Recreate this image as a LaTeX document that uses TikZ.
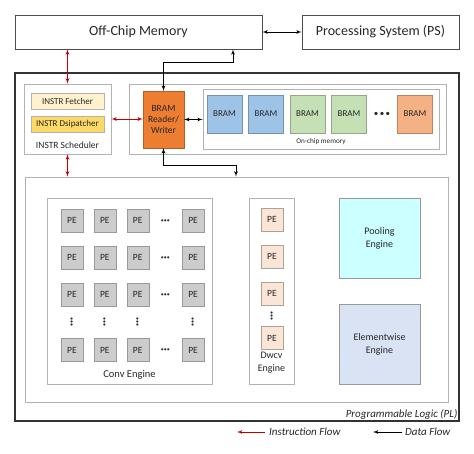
\documentclass[tikz,border=0pt]{standalone}
\usepackage{fontspec}
\setmainfont{Carlito}
\usetikzlibrary{shapes,arrows}
\definecolor{instrred}{HTML}{C00000}
\definecolor{bramblue}{HTML}{9DC3E6}
\definecolor{bramgreen}{HTML}{C5E0B4}
\definecolor{bramorange}{HTML}{F4B183}
\definecolor{rworange}{HTML}{ED7D31}
\definecolor{fetchcream}{HTML}{FFF2CC}
\definecolor{dispgold}{HTML}{FFD966}
\definecolor{dwpeach}{HTML}{FBE5D6}
\definecolor{poolcyan}{HTML}{CCFFFF}
\definecolor{eltlilac}{HTML}{DAE3F3}
\tikzset{font=\fontsize{10.5}{12}\selectfont}

\begin{document}
\begin{tikzpicture}
  [x=1pt, y=-1pt, auto, every node/.style={text=black!85},
  topblock/.style={rectangle, draw=black!70, line width=0.8pt, inner sep=0pt, minimum height=34pt, font=\fontsize{14}{16}\selectfont},
  plframe/.style={rectangle, draw=black!80, line width=1.2pt, minimum width=444pt, minimum height=348pt},
  panel/.style={rectangle, draw=black!30, line width=0.8pt, inner sep=0pt},
  instr/.style={rectangle, draw=black!30, fill=#1, minimum width=73pt, minimum height=16pt, inner sep=0pt, font=\fontsize{9}{10}\selectfont},
  bram/.style={rectangle, draw=#1!75!black, fill=#1, minimum width=35pt, minimum height=38pt, inner sep=0pt, font=\fontsize{9}{10}\selectfont},
  rwblock/.style={rectangle, draw=rworange!75!black, fill=rworange, minimum width=41pt, minimum height=57pt, inner sep=0pt, align=center, font=\fontsize{9.5}{11}\selectfont},
  pe/.style={rectangle, draw=black!40, fill=black!20, minimum width=22pt, minimum height=23pt, inner sep=0pt, font=\fontsize{9.5}{10}\selectfont},
  dpe/.style={pe, draw=dwpeach!70!black, fill=dwpeach},
  hdots/.style={inner sep=0pt, minimum width=12pt, font=\fontsize{6}{6}\selectfont},
  vdots/.style={hdots, rotate=90},
  engine/.style={rectangle, draw=black!40, fill=#1, minimum width=81pt, minimum height=80pt, align=center, font=\fontsize{10}{13}\selectfont},
  caption/.style={inner sep=1pt, align=center},
  legend/.style={inner sep=2pt, font=\fontsize{11}{12}\selectfont\itshape},
  line/.style={draw, line width=0.8pt, >=latex'},
  iline/.style={line, draw=instrred}]

  \useasboundingbox (0,0) rectangle (474,454);

  % top level
  \node [topblock, minimum width=247pt] (offchip) at (138.5,32) {Off-Chip Memory};
  \node [topblock, minimum width=157pt] (ps) at (380.5,32) {Processing System (PS)};
  \node [plframe] (pl) at (237,247) {};
  \node [legend, anchor=south east] (pllbl) at (pl.south east) {Programmable Logic (PL)};

  % scheduler
  \node [panel, minimum width=87pt, minimum height=70pt] (sched) at (67.5,119) {};
  \node [instr=fetchcream] (fetcher) at (67.5,101) {INSTR Fetcher};
  \node [instr=dispgold] (dispatcher) at (67.5,124) {INSTR Dsipatcher};
  \node [caption, font=\fontsize{9.5}{11}\selectfont] (schedlbl) at (67.5,145) {INSTR Scheduler};

  % memory side
  \node [panel, minimum width=317pt, minimum height=70pt] (membox) at (287.5,119) {};
  \node [rwblock] (bramrw) at (163.5,119.5) {BRAM\\Reader/\\Writer};
  \node [panel, minimum width=236pt, minimum height=60pt] (onchip) at (321,119) {};
  \node [bram=bramblue] (bram1) at (224.5,114) {BRAM};
  \node [bram=bramblue] (bram2) at (266,114) {BRAM};
  \node [bram=bramgreen] (bram3) at (307.5,114) {BRAM};
  \node [bram=bramgreen] (bram4) at (349,114) {BRAM};
  \node [inner sep=0pt, font=\fontsize{9}{9}\selectfont] (bramdots) at (382,114) {\textbullet\,\textbullet\,\textbullet};
  \node [bram=bramorange] (bramn) at (415,114) {BRAM};
  \node [caption, font=\fontsize{7.2}{8}\selectfont] (onchiplbl) at (321,142) {On-chip memory};

  % compute engines
  \node [panel, minimum width=423pt, minimum height=225pt] (engines) at (236.5,289.5) {};
  \node [panel, minimum width=165pt, minimum height=186pt] (conv) at (129.5,291) {};
  \matrix (convgrid) [column sep=10.5pt, row sep=13.5pt] at (132.5,285.5) {
    % row 1
    \node [pe] (pe11){PE}; & \node [pe] (pe12){PE}; & \node [pe] (pe13){PE}; & \node [hdots] {\textbullet\textbullet\textbullet}; & \node [pe] (pe1n){PE}; \\
    % row 2
    \node [pe] (pe21){PE}; & \node [pe] (pe22){PE}; & \node [pe] (pe23){PE}; & \node [hdots] {\textbullet\textbullet\textbullet}; & \node [pe] (pe2n){PE}; \\
    % row 3
    \node [pe] (pe31){PE}; & \node [pe] (pe32){PE}; & \node [pe] (pe33){PE}; & \node [hdots] {\textbullet\textbullet\textbullet}; & \node [pe] (pe3n){PE}; \\[-3.5pt]
    % dots
    \node [vdots] {\textbullet\textbullet\textbullet}; & \node [vdots] {\textbullet\textbullet\textbullet}; & \node [vdots] {\textbullet\textbullet\textbullet}; & & \node [vdots] {\textbullet\textbullet\textbullet}; \\[-3.5pt]
    % last row
    \node [pe] (pen1){PE}; & \node [pe] (pen2){PE}; & \node [pe] (pen3){PE}; & \node [hdots] {\textbullet\textbullet\textbullet}; & \node [pe] (penn){PE}; \\
  };
  \node [caption] (convlbl) at (129.5,375) {Conv Engine};

  \node [panel, minimum width=45pt, minimum height=186pt] (dwcv) at (271.5,291) {};
  \matrix (dwgrid) [row sep=13.5pt] at (272,279) {
    \node [dpe] (dpe1){PE}; \\
    \node [dpe] (dpe2){PE}; \\
    \node [dpe] (dpe3){PE}; \\[-9pt]
    \node [vdots] {\textbullet\textbullet\textbullet}; \\[-9pt]
    \node [dpe] (dpen){PE}; \\
  };
  \node [caption, font=\fontsize{10}{13}\selectfont] (dwcvlbl) at (271.5,363) {Dwcv\\Engine};

  \node [engine=poolcyan] (pool) at (379.5,238) {Pooling\\Engine};
  \node [engine=eltlilac] (elt) at (379.5,344) {Elementwise\\Engine};

  % legend
  \node [legend, anchor=west] (instrkey) at (267,432) {Instruction Flow};
  \coordinate (instrtip) at (237,432);
  \node [legend, anchor=west] (datakey) at (403,432) {Data Flow};
  \coordinate (datatip) at (373,432);

  % connectors
  \coordinate (ddrtap) at (233,62);
  \coordinate (engtap) at (236,165);
  \begin{scope}
    \path [iline, <->] (offchip.south -| sched.north) -- (sched.north);
    \path [line, <->] (offchip) -- (ps);
    \path [line, <->] (bramrw.north) |- (ddrtap) -- (ddrtap |- offchip.south);
    \path [iline, <->] (sched.east) -- (sched.east -| bramrw.west);
    \path [line, <->] (bramrw.east) -- (bramrw.east -| onchip.west);
    \path [iline, <->] (sched.south) -- (sched.south |- engines.north);
    \path [line, <->] (bramrw.south) |- (engtap) -- (engtap |- engines.north);
    \path [iline, ->, shorten <=2pt] (instrkey.west) -- (instrtip);
    \path [line, ->, shorten <=1pt] (datakey.west) -- (datatip);
  \end{scope}
\end{tikzpicture}
\end{document}
